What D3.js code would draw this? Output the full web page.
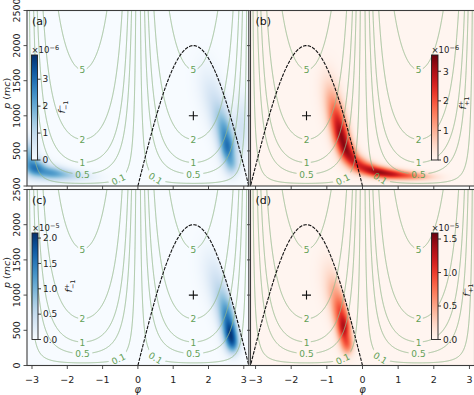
<!DOCTYPE html>
<html><head><meta charset="utf-8">
<script src="https://cdn.jsdelivr.net/npm/d3@7"></script>
<style>body{margin:0;background:#fff;overflow:hidden} svg{display:block} text{font-family:"DejaVu Sans",sans-serif}</style>
</head><body>
<svg id="chart" width="474" height="395"></svg>
<script>
// ---------------- data ----------------
const phiTicks = [-3, -2, -1, 0, 1, 2, 3];
const pTicksTop = [0, 500, 1000, 1500, 2000, 2500];
const pLabelsTop = [500, 1000, 1500, 2000, 2500];
const pLabelsBottom = [0, 500, 1000, 1500, 2000, 2500];
const contourLevels = [0.1, 0.5, 1, 2, 5];
const contourLabelLevels = ["0.5", "1", "2", "5"];
const contourUnitP = 330;        // p at the U-bottom of level 1
const contourExponent = 1.6;     // shape exponent of the level curves
const zeroOneLabelPhi = [-0.55, 0.5];
const separatrixPeak = 2000;
const fixedPointP = 1000;
const panelLetters = ["(a)", "(b)", "(c)", "(d)"];
const cbarMax = [3.9, 3.55, 2.1, 1.59];
const cbarTicks = [[0, 1, 2, 3], [0, 1, 2, 3], [0, 0.5, 1, 1.5, 2], [0, 0.5, 1, 1.5]];
const cbarExponent = ["−6", "−6", "−5", "−5"];
const fSup = ["−", "+", "+", "−"];
const fSub = ["−1", "+1", "−1", "+1"];
// density kernels: [phi, p, amplitude (cbar units), sigmaPhi, sigmaP]
const blobsA = [
  [2.66, 300, 1.3, 0.14, 110], [2.55, 530, 2.3, 0.15, 140], [2.45, 770, 1.7, 0.16, 160],
  [2.3, 1010, 1.0, 0.18, 180], [2.1, 1280, 0.5, 0.2, 200], [1.9, 1550, 0.2, 0.22, 220],
  [2.95, 850, 0.7, 0.15, 300],
  [-3.1, 450, 1.6, 0.15, 150], [-2.9, 260, 2.3, 0.2, 90], [-2.5, 190, 1.8, 0.25, 70],
  [-2.1, 160, 1.05, 0.27, 60], [-1.7, 140, 0.45, 0.28, 55], [-1.3, 130, 0.15, 0.28, 50]
];
const blobsB = [
  [-1.0, 1450, 0.3, 0.18, 200], [-0.85, 1200, 0.9, 0.17, 180], [-0.72, 950, 1.8, 0.16, 160],
  [-0.6, 720, 2.4, 0.15, 140], [-0.47, 520, 2.3, 0.14, 120], [-0.3, 400, 1.8, 0.13, 100],
  [-0.1, 310, 1.7, 0.15, 80], [0.15, 245, 2.0, 0.18, 65], [0.45, 200, 2.3, 0.2, 55],
  [0.8, 170, 2.1, 0.22, 50], [1.2, 150, 1.5, 0.24, 45], [1.6, 135, 0.8, 0.24, 42],
  [2.0, 125, 0.25, 0.24, 40]
];
const blobsC = [
  [2.7, 300, 1.0, 0.13, 100], [2.62, 460, 1.5, 0.14, 130], [2.52, 690, 1.1, 0.15, 160],
  [2.38, 930, 0.6, 0.17, 180], [2.2, 1200, 0.3, 0.19, 200], [2.0, 1470, 0.12, 0.22, 230],
  [-3.0, 150, 0.1, 0.25, 120]
];
const blobsD = [
  [-0.42, 290, 0.65, 0.12, 100], [-0.52, 530, 1.15, 0.13, 140], [-0.64, 790, 0.75, 0.15, 160],
  [-0.8, 1060, 0.35, 0.17, 180], [-0.97, 1320, 0.12, 0.19, 200]
];
const blobSets = [blobsA, blobsB, blobsC, blobsD];
const humpSide = [1, -1, 1, -1];        // separatrix hump on phi>0 (+1) or phi<0 (-1)
const clipToSeparatrix = [false, false, true, true];

// ---------------- layout ----------------
const PI = Math.PI;
const layout = [
  {x0: 27, x1: 248.8, y0: 10.5, y1: 186, top: true, left: true, cmap: d3.interpolateBlues},
  {x0: 250.5, x1: 474.5, y0: 10.5, y1: 186, top: true, left: false, cmap: d3.interpolateReds},
  {x0: 27, x1: 248.8, y0: 189.5, y1: 365.5, top: false, left: true, cmap: d3.interpolateBlues},
  {x0: 250.5, x1: 474.5, y0: 189.5, y1: 365.5, top: false, left: false, cmap: d3.interpolateReds}
];
const cbarBox = [
  {x: 31.5, y0: 55, y1: 160, w: 6},
  {x: 431.5, y0: 55, y1: 160, w: 6.5},
  {x: 32, y0: 233, y1: 339.5, w: 6},
  {x: 431.5, y0: 233, y1: 339.5, w: 6.5}
];
const fLabelPos = [[65, 107], [466, 103], [72, 286], [470, 290]];
const contourStroke = "#95b98d", contourText = "#62a055", spine = "#3c3c3c";

const svg = d3.select("#chart");
const defs = svg.append("defs");

function hamiltonian(phi, p) { return p * Math.pow(Math.abs(Math.sin(phi)), contourExponent) / contourUnitP; }
function levelP(level, phi) { return level * contourUnitP / Math.pow(Math.abs(Math.sin(phi)), contourExponent); }

// contour grid (shared, function is periodic)
const gPhiMin = -PI - 0.25, gPhiMax = PI + 0.25, gPMin = -100, gPMax = 2650;
const nx = 720, ny = 320;
const dphi = (gPhiMax - gPhiMin) / (nx - 1), dpp = (gPMax - gPMin) / (ny - 1);
const vals = new Float64Array(nx * ny);
for (let j = 0; j < ny; j++) for (let i = 0; i < nx; i++)
  vals[j * nx + i] = hamiltonian(gPhiMin + i * dphi, gPMin + j * dpp);
const contourSet = d3.contours().size([nx, ny]).thresholds(contourLevels)(vals);

layout.forEach((L, k) => {
  const x = d3.scaleLinear().domain([-PI, PI]).range([L.x0, L.x1]);
  const y = d3.scaleLinear().domain([0, 2500]).range([L.y1, L.y0]);
  const g = svg.append("g");
  const clipId = "clip" + k;
  defs.append("clipPath").attr("id", clipId).append("rect")
    .attr("x", L.x0).attr("y", L.y0).attr("width", L.x1 - L.x0).attr("height", L.y1 - L.y0);

  // heatmap
  const vmax = cbarMax[k];
  const cw = Math.round(L.x1 - L.x0), ch = Math.round(L.y1 - L.y0);
  const canvas = document.createElement("canvas");
  canvas.width = cw; canvas.height = ch;
  const ctx = canvas.getContext("2d");
  const img = ctx.createImageData(cw, ch);
  const blobs = blobSets[k];
  for (let j = 0; j < ch; j++) {
    const p = y.invert(L.y0 + (j + 0.5) * (L.y1 - L.y0) / ch);
    for (let i = 0; i < cw; i++) {
      const phi = x.invert(L.x0 + (i + 0.5) * (L.x1 - L.x0) / cw);
      let v = 0;
      for (const b of blobs) {
        const a = (phi - b[0]) / b[3], c = (p - b[1]) / b[4];
        v += b[2] * Math.exp(-0.5 * (a * a + c * c));
      }
      if (clipToSeparatrix[k]) {
        const inside = humpSide[k] * phi > 0 ? separatrixPeak * Math.abs(Math.sin(phi)) : 0;
        v *= 1 / (1 + Math.exp(-(inside - p) / 35));
      }
      const col = d3.rgb(L.cmap(Math.min(1, v / vmax)));
      const o = (j * cw + i) * 4;
      img.data[o] = col.r; img.data[o + 1] = col.g; img.data[o + 2] = col.b; img.data[o + 3] = 255;
    }
  }
  ctx.putImageData(img, 0, 0);
  g.append("image").attr("href", canvas.toDataURL()).attr("x", L.x0).attr("y", L.y0)
    .attr("width", L.x1 - L.x0).attr("height", L.y1 - L.y0).attr("preserveAspectRatio", "none");

  // contour labels info
  const labels = [];
  [-PI / 2, PI / 2].forEach(ph => contourLabelLevels.forEach(s => {
    labels.push({text: s, x: x(ph), y: y(+s * contourUnitP), ang: 0});
  }));
  zeroOneLabelPhi.forEach(ph => {
    const p0 = levelP(0.1, ph), h = 0.01;
    const dx = x(ph + h) - x(ph - h), dy = y(levelP(0.1, ph + h)) - y(levelP(0.1, ph - h));
    labels.push({text: "0.1", x: x(ph), y: y(p0), ang: Math.atan2(dy, dx) * 180 / PI});
  });
  const maskId = "mask" + k;
  const mask = defs.append("mask").attr("id", maskId).attr("maskUnits", "userSpaceOnUse")
    .attr("x", 0).attr("y", 0).attr("width", 474).attr("height", 395);
  mask.append("rect").attr("x", 0).attr("y", 0).attr("width", 474).attr("height", 395).attr("fill", "#fff");
  labels.forEach(l => {
    const w = l.text.length * 5.6 + 3;
    mask.append("rect").attr("x", -w / 2).attr("y", -4.5).attr("width", w).attr("height", 9)
      .attr("fill", "#000").attr("transform", `translate(${l.x},${l.y}) rotate(${l.ang})`);
  });

  const path = d3.geoPath(d3.geoTransform({
    point(gx, gy) { this.stream.point(x(gPhiMin + gx * dphi), y(gPMin + gy * dpp)); }
  }));
  const cg = g.append("g").attr("clip-path", `url(#${clipId})`);
  cg.append("g").attr("mask", `url(#${maskId})`).selectAll("path").data(contourSet).join("path")
    .attr("d", path).attr("fill", "none").attr("stroke", contourStroke).attr("stroke-width", 0.9);
  labels.forEach(l => {
    cg.append("text").attr("transform", `translate(${l.x},${l.y}) rotate(${l.ang})`)
      .attr("text-anchor", "middle").attr("dy", "0.36em").attr("font-size", 9)
      .attr("fill", contourText).text(l.text);
  });

  // separatrix
  const phis = d3.range(0, 201).map(i => humpSide[k] * PI * i / 200);
  cg.append("path").datum(phis)
    .attr("d", d3.line().x(ph => x(ph)).y(ph => y(separatrixPeak * Math.abs(Math.sin(ph)))))
    .attr("fill", "none").attr("stroke", "#111").attr("stroke-width", 1.1).attr("stroke-dasharray", "3.5,1.2");

  // fixed point marker
  const fx = x(humpSide[k] * PI / 2), fy = y(fixedPointP);
  g.append("path").attr("d", `M${fx - 4.5},${fy}H${fx + 4.5}M${fx},${fy - 4.5}V${fy + 4.5}`)
    .attr("stroke", "#111").attr("stroke-width", 1.1);

  // panel letter
  g.append("text").attr("x", L.x0 + 5).attr("y", L.y0 + 14.5).attr("font-size", 11)
    .attr("fill", "#111").text(panelLetters[k]);

  // spines
  g.append("rect").attr("x", L.x0).attr("y", L.y0).attr("width", L.x1 - L.x0).attr("height", L.y1 - L.y0)
    .attr("fill", "none").attr("stroke", spine).attr("stroke-width", 1.1);

  // x ticks
  phiTicks.forEach(t => {
    g.append("line").attr("x1", x(t)).attr("x2", x(t)).attr("y1", L.y1).attr("y2", L.y1 + 3.5)
      .attr("stroke", spine).attr("stroke-width", 0.9);
    if (!L.top) {
      g.append("text").attr("x", x(t)).attr("y", 383).attr("text-anchor", "middle")
        .attr("font-size", 9.5).attr("fill", "#222").text(t < 0 ? "−" + (-t) : String(t));
    }
  });
  if (!L.top) {
    g.append("text").attr("x", x(0)).attr("y", 393).attr("text-anchor", "middle")
      .attr("font-size", 10).attr("font-style", "italic").attr("fill", "#222").text("φ");
  }
  // y ticks
  pTicksTop.forEach(t => {
    g.append("line").attr("x1", L.x0 - 3.5).attr("x2", L.x0).attr("y1", y(t)).attr("y2", y(t))
      .attr("stroke", spine).attr("stroke-width", 0.9);
  });
  if (L.left) {
    (L.top ? pLabelsTop : pLabelsBottom).forEach(t => {
      g.append("text").attr("transform", `translate(19.5,${y(t)}) rotate(-90)`)
        .attr("text-anchor", "middle").attr("font-size", 9.5).attr("fill", "#222").text(t);
    });
    const yl = g.append("text").attr("transform", `translate(10,${(L.y0 + L.y1) / 2 - 5}) rotate(-90)`)
      .attr("text-anchor", "middle").attr("font-size", 9.5).attr("fill", "#222");
    yl.append("tspan").attr("font-style", "italic").text("p");
    yl.append("tspan").text(" (");
    yl.append("tspan").attr("font-style", "italic").text("mc");
    yl.append("tspan").text(")");
  }

  // colorbar
  const cb = cbarBox[k];
  const gid = "grad" + k;
  const grad = defs.append("linearGradient").attr("id", gid).attr("x1", 0).attr("y1", 1).attr("x2", 0).attr("y2", 0);
  d3.range(0, 21).forEach(i => grad.append("stop").attr("offset", i / 20).attr("stop-color", L.cmap(i / 20)));
  g.append("rect").attr("x", cb.x).attr("y", cb.y0).attr("width", cb.w).attr("height", cb.y1 - cb.y0)
    .attr("fill", `url(#${gid})`).attr("stroke", "#222").attr("stroke-width", 0.9);
  const cs = d3.scaleLinear().domain([0, cbarMax[k]]).range([cb.y1, cb.y0]);
  const fmt = k < 2 ? d3.format("d") : d3.format(".1f");
  cbarTicks[k].forEach(t => {
    g.append("line").attr("x1", cb.x + cb.w).attr("x2", cb.x + cb.w + 3).attr("y1", cs(t)).attr("y2", cs(t))
      .attr("stroke", "#222").attr("stroke-width", 0.9);
    g.append("text").attr("x", cb.x + cb.w + 5).attr("y", cs(t)).attr("dy", "0.36em")
      .attr("font-size", 9).attr("fill", "#222").text(fmt(t));
  });
  const mt = g.append("text").attr("x", cb.x).attr("y", cb.y0 - 2.5).attr("font-size", 8.5).attr("fill", "#222");
  mt.append("tspan").text("×10");
  mt.append("tspan").attr("dy", -3).attr("font-size", 6.5).text(cbarExponent[k]);
  const [fxl, fyl] = fLabelPos[k];
  const fl = g.append("text").attr("transform", `translate(${fxl},${fyl}) rotate(-90)`)
    .attr("text-anchor", "middle").attr("font-size", 9.5).attr("fill", "#222");
  fl.append("tspan").attr("font-style", "italic").text("f");
  fl.append("tspan").attr("dy", -3.5).attr("font-size", 6.5).text(fSup[k]);
  fl.append("tspan").attr("dx", -5.4).attr("dy", 6.5).attr("font-size", 6.5).text(fSub[k]);
});
</script>
</body></html>
